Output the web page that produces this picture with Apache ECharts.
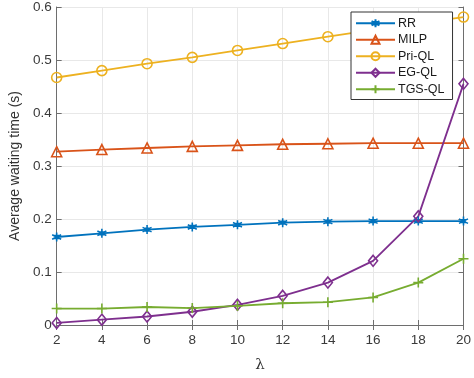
<!DOCTYPE html>
<html>
<head>
<meta charset="utf-8">
<script src="https://cdn.jsdelivr.net/npm/echarts@6/dist/echarts.min.js"></script>
<style>html,body{margin:0;padding:0;background:#fff;}#c{width:474px;height:378px;}</style>
</head>
<body>
<div id="c"></div>
<script>
const lambdas = [2, 4, 6, 8, 10, 12, 14, 16, 18, 20];
const rr    = [0.166, 0.173, 0.180, 0.185, 0.189, 0.193, 0.195, 0.196, 0.196, 0.196];
const milp  = [0.327, 0.331, 0.334, 0.337, 0.339, 0.341, 0.342, 0.343, 0.343, 0.343];
const priQL = [0.467, 0.480, 0.493, 0.505, 0.518, 0.531, 0.544, 0.557, 0.569, 0.581];
const egQL  = [0.004, 0.010, 0.016, 0.025, 0.038, 0.055, 0.080, 0.121, 0.205, 0.455];
const tgsQL = [0.031, 0.031, 0.034, 0.032, 0.036, 0.041, 0.043, 0.052, 0.080, 0.125];
const yTicks = [0, 0.1, 0.2, 0.3, 0.4, 0.5, 0.6];

const names = ['RR', 'MILP', 'Pri-QL', 'EG-QL', 'TGS-QL'];
const colors = ['#0072BD', '#D95319', '#EDB120', '#7E2F8E', '#77AC30'];
const symbols = [
  'path://M0,-5L0,5M-4.33,-2.5L4.33,2.5M-4.33,2.5L4.33,-2.5M-1.5,-1.5L1.5,-1.5L1.5,1.5L-1.5,1.5Z',
  'triangle',
  'circle',
  'diamond',
  'path://M0,-5L0,5M-5,0L5,0'
];
const symSizes = [9, 10, 10, [9, 11], 10];
const datas = [rr, milp, priQL, egQL, tgsQL];

const axisColor = '#6e6e6e';
const labelColor = '#3a3a3a';
const font = 'Liberation Sans, Arial, sans-serif';

const series = names.map((n, i) => ({
  name: n,
  type: 'line',
  data: lambdas.map((x, j) => [x, datas[i][j]]),
  symbol: symbols[i],
  symbolSize: symSizes[i],
  showAllSymbol: true,
  lineStyle: { color: colors[i], width: 1.8 },
  itemStyle: { color: (i === 0 ? colors[i] : 'rgba(255,255,255,0)'), borderColor: colors[i], borderWidth: 1.6 },
  animation: false
}));

const chart = echarts.init(document.getElementById('c'));
chart.setOption({
  animation: false,
  backgroundColor: '#fff',
  grid: { left: 43, right: 8, top: 5, bottom: 40 },
  legend: {
    orient: 'vertical',
    left: 351,
    top: 12,
    z: 20,
    data: names,
    itemWidth: 39,
    itemHeight: 10,
    itemGap: 2,
    padding: [4, 8, 3, 4],
    borderColor: '#333',
    borderWidth: 1,
    borderRadius: 0,
    backgroundColor: '#fff',
    textStyle: { fontSize: 12.5, lineHeight: 14.5, color: '#1a1a1a', fontFamily: font, padding: [0, 0, 0, -2] }
  },
  xAxis: [{
    type: 'value', min: 2, max: 20, interval: 2,
    name: 'λ', nameLocation: 'middle', nameGap: 33,
    nameTextStyle: { fontSize: 15, color: '#333', fontFamily: 'DejaVu Serif, serif' },
    axisLine: { show: true, lineStyle: { color: axisColor, width: 1 } },
    axisTick: { show: true, inside: true, length: 5, lineStyle: { color: axisColor } },
    axisLabel: { fontSize: 13.5, color: labelColor, fontFamily: font, margin: 8 },
    splitLine: { show: true, lineStyle: { color: '#e8e8e8', width: 1 } }
  }, {
    type: 'value', min: 2, max: 20, interval: 2, position: 'top',
    axisLine: { show: true, lineStyle: { color: axisColor, width: 1 } },
    axisTick: { show: true, inside: true, length: 5, lineStyle: { color: axisColor } },
    axisLabel: { show: false }, splitLine: { show: false }
  }],
  yAxis: [{
    type: 'value', min: 0, max: 0.6, interval: 0.1,
    name: 'Average waiting time (s)', nameLocation: 'middle', nameGap: 34,
    nameTextStyle: { fontSize: 14, color: '#333', fontFamily: font },
    axisLine: { show: true, lineStyle: { color: axisColor, width: 1 } },
    axisTick: { show: true, inside: true, length: 5, lineStyle: { color: axisColor } },
    axisLabel: { fontSize: 13.5, color: labelColor, fontFamily: font, margin: 5,
      formatter: v => { const t = yTicks.find(k => Math.abs(k - v) < 1e-9); return t === undefined ? '' : String(t); } },
    splitLine: { show: true, lineStyle: { color: '#e8e8e8', width: 1 } }
  }, {
    type: 'value', min: 0, max: 0.6, interval: 0.1, position: 'right',
    axisLine: { show: true, lineStyle: { color: axisColor, width: 1 } },
    axisTick: { show: true, inside: true, length: 5, lineStyle: { color: axisColor } },
    axisLabel: { show: false }, splitLine: { show: false }
  }],
  series: series
});
</script>
</body>
</html>
